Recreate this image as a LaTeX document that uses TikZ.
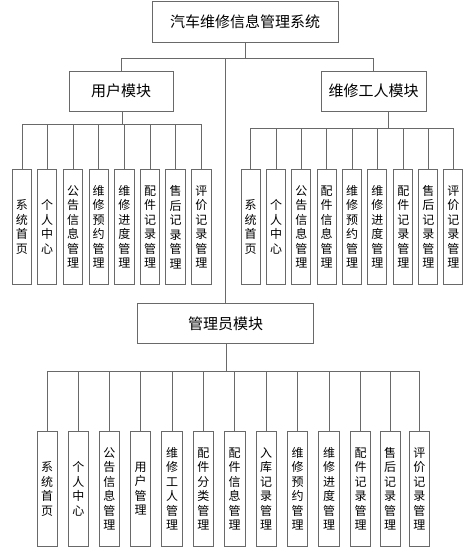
\documentclass[tikz,border=0pt]{standalone}
\usepackage{fontspec}
\setmainfont{Noto Sans CJK SC}
\definecolor{linegray}{RGB}{105,105,105}
\begin{document}
\begin{tikzpicture}[x=1pt,y=-1pt,
  conn/.style={draw=linegray,line width=0.9pt},
  bigbox/.style={draw=linegray,line width=0.9pt,fill=white,inner sep=0pt,minimum height=40pt,font=\fontsize{15}{18}\selectfont},
  childbox/.style={draw=linegray,line width=0.9pt,fill=white,inner sep=0pt,align=center,minimum width=19.5pt,minimum height=115.5pt,font=\fontsize{12}{14.5}\selectfont},
  admbox/.style={childbox,minimum width=20.5pt,minimum height=115.7pt}]
\useasboundingbox (0,0) rectangle (474,559);
% top level
\node[bigbox,minimum width=186pt,minimum height=41pt] (sys) at (245,21.5) {汽车维修信息管理系统};
\node[bigbox,minimum width=104pt] (user) at (121,91) {用户模块};
\node[bigbox,minimum width=105pt] (worker) at (373.5,91) {维修工人模块};
\node[bigbox,minimum width=175.6pt] (admin) at (225.5,323.3) {管理员模块};
\coordinate (b1) at (245,58);
\draw[conn] (sys.south) -- (b1);
\draw[conn] (user.north) -- (user.north |- b1) -- (worker.north |- b1) -- (worker.north);
\draw[conn] (admin.north) -- (admin.north |- b1);
% user children
\foreach \i/\x/\t in {1/22/{系\\统\\首\\页},2/47/{个\\人\\中\\心},3/73/{公\\告\\信\\息\\管\\理},4/98.7/{维\\修\\预\\约\\管\\理},5/124.3/{维\\修\\进\\度\\管\\理},6/150/{配\\件\\记\\录\\管\\理},7/175.6/{售\\后\\记\\录\\管\\理},8/201.3/{评\\价\\记\\录\\管\\理}}
  \node[childbox] (u\i) at (\x,227) {\t};
\coordinate (ub) at (122,124);
\draw[conn] ([xshift=1pt]user.south) -- (ub);
\draw[conn] (u1.north |- ub) -- (u8.north |- ub);
\foreach \i in {1,...,8} \draw[conn] (u\i.north) -- (u\i.north |- ub);
% worker children
\foreach \i/\x/\t in {1/250.7/{系\\统\\首\\页},2/276/{个\\人\\中\\心},3/301.3/{公\\告\\信\\息\\管\\理},4/326.7/{配\\件\\信\\息\\管\\理},5/352/{维\\修\\预\\约\\管\\理},6/377.3/{维\\修\\进\\度\\管\\理},7/403.3/{配\\件\\记\\录\\管\\理},8/428.3/{售\\后\\记\\录\\管\\理},9/453.3/{评\\价\\记\\录\\管\\理}}
  \node[childbox,minimum width=19pt,minimum height=115pt] (w\i) at (\x,226.8) {\t};
\coordinate (wb) at (388,128);
\draw[conn] ([xshift=14.5pt]worker.south) -- (wb);
\draw[conn] (w1.north |- wb) -- (w9.north |- wb);
\foreach \i in {1,...,9} \draw[conn] (w\i.north) -- (w\i.north |- wb);
% admin children
\foreach \i/\x/\t in {1/47.2/{系\\统\\首\\页},2/78.3/{个\\人\\中\\心},3/109.3/{公\\告\\信\\息\\管\\理},4/140.5/{用\\户\\管\\理},5/172/{维\\修\\工\\人\\管\\理},6/203.3/{配\\件\\分\\类\\管\\理},7/234.7/{配\\件\\信\\息\\管\\理},8/266.2/{入\\库\\记\\录\\管\\理},9/297.6/{维\\修\\预\\约\\管\\理},10/329/{维\\修\\进\\度\\管\\理},11/360.6/{配\\件\\记\\录\\管\\理},12/390.2/{售\\后\\记\\录\\管\\理},13/419.3/{评\\价\\记\\录\\管\\理}}
  \node[admbox] (a\i) at (\x,488.8) {\t};
\coordinate (ab) at (226,371);
\draw[conn] ([xshift=0.5pt]admin.south) -- (ab);
\draw[conn] (a1.north |- ab) -- (a13.north |- ab);
\foreach \i in {1,...,13} \draw[conn] (a\i.north) -- (a\i.north |- ab);
\end{tikzpicture}
\end{document}
